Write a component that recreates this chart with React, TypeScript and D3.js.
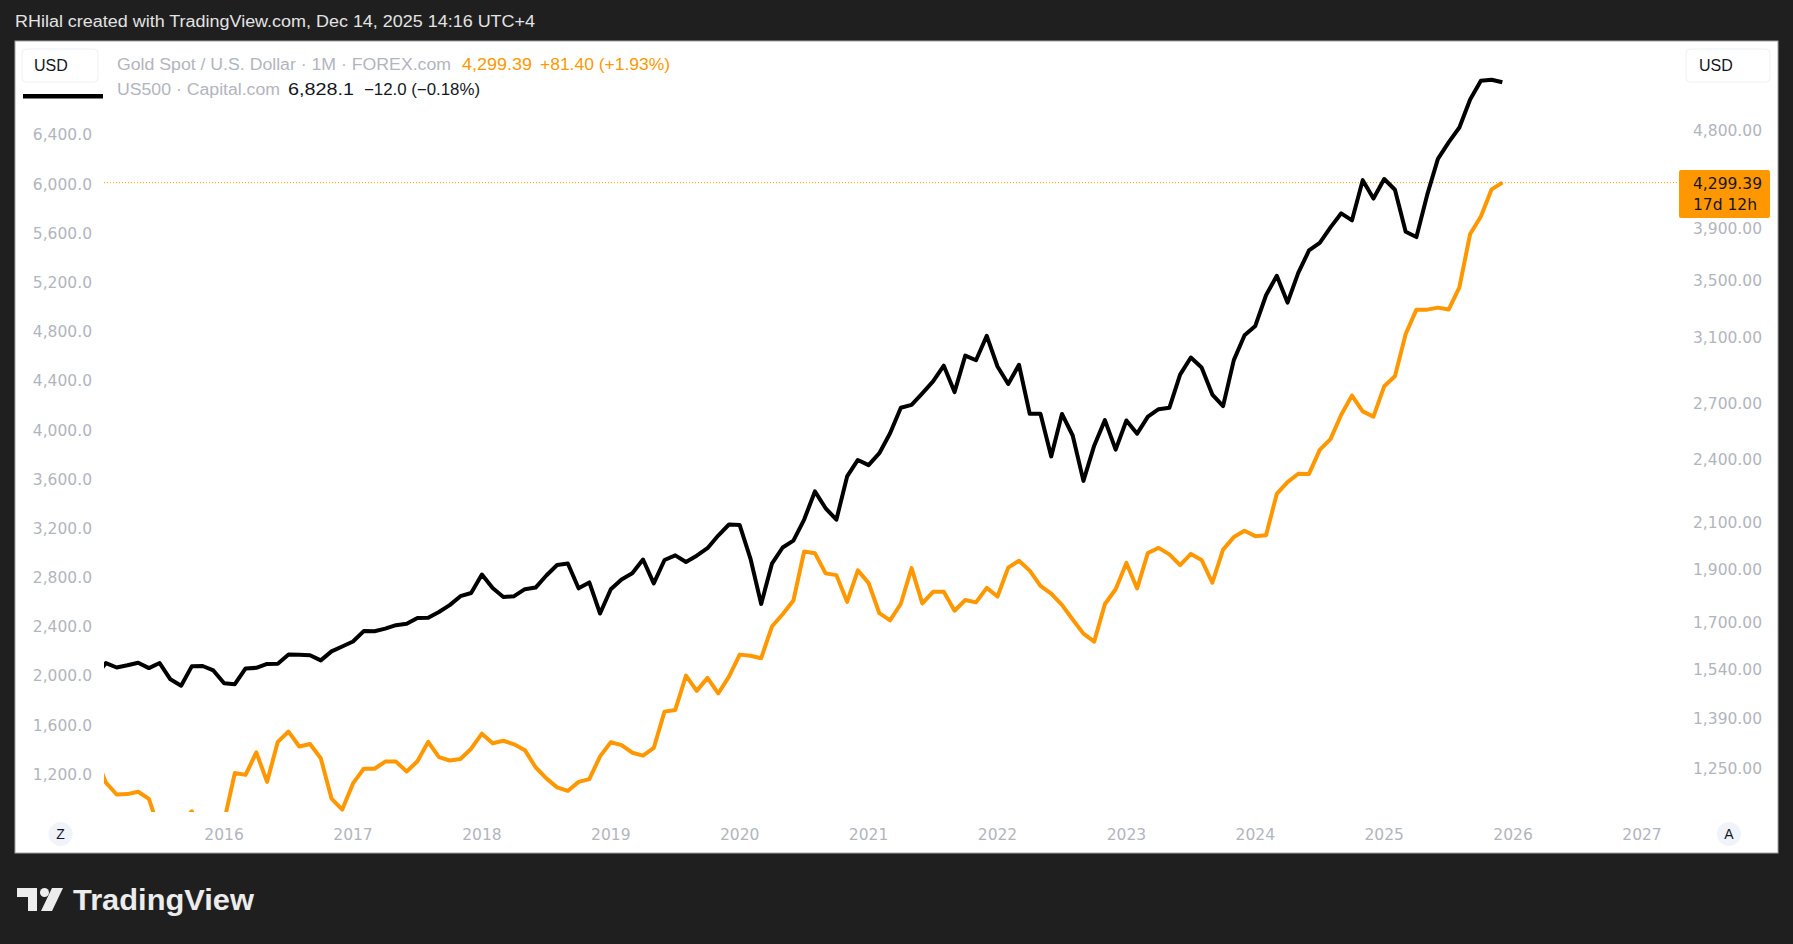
import React, { useEffect, useRef } from 'react';
import * as d3 from 'd3';

// monthly closes, Jan 2015 .. Dec 2025 (one row per year)
const us500 = [
  1995, 2104, 2068, 2086, 2107, 2063, 2104, 1972, 1920, 2079, 2080, 2044,
  1940, 1932, 2060, 2065, 2097, 2099, 2174, 2171, 2168, 2126, 2199, 2239,
  2279, 2364, 2363, 2384, 2412, 2423, 2470, 2472, 2519, 2575, 2648, 2674,
  2824, 2714, 2641, 2648, 2705, 2718, 2816, 2902, 2914, 2712, 2760, 2507,
  2704, 2784, 2834, 2946, 2752, 2942, 2980, 2926, 2977, 3038, 3141, 3231,
  3226, 2954, 2585, 2912, 3044, 3100, 3271, 3500, 3363, 3270, 3622, 3756,
  3714, 3811, 3973, 4181, 4204, 4298, 4395, 4523, 4308, 4605, 4567, 4766,
  4516, 4374, 4530, 4132, 4132, 3785, 4130, 3955, 3586, 3872, 4080, 3840,
  4077, 3970, 4109, 4169, 4180, 4450, 4589, 4508, 4288, 4194, 4568, 4770,
  4846, 5096, 5254, 5036, 5278, 5460, 5522, 5648, 5762, 5705, 6032, 5882,
  6041, 5954, 5612, 5569, 5912, 6205, 6339, 6460, 6688, 6840, 6849, 6828,
];

const gold = [
  1283, 1213, 1183, 1184, 1190, 1172, 1095, 1134, 1115, 1142, 1065, 1061,
  1118, 1238, 1233, 1293, 1215, 1322, 1351, 1309, 1316, 1277, 1173, 1146,
  1211, 1249, 1249, 1268, 1268, 1242, 1269, 1322, 1280, 1271, 1275, 1303,
  1345, 1318, 1325, 1315, 1299, 1253, 1224, 1201, 1192, 1215, 1222, 1282,
  1321, 1313, 1292, 1284, 1305, 1409, 1414, 1520, 1472, 1513, 1464, 1517,
  1589, 1585, 1577, 1686, 1730, 1781, 1975, 1968, 1886, 1879, 1776, 1898,
  1848, 1734, 1708, 1769, 1907, 1770, 1814, 1814, 1743, 1783, 1774, 1829,
  1796, 1909, 1937, 1897, 1837, 1807, 1765, 1711, 1661, 1633, 1768, 1824,
  1928, 1827, 1969, 1990, 1963, 1919, 1965, 1940, 1849, 1983, 2036, 2063,
  2040, 2044, 2230, 2286, 2327, 2326, 2447, 2503, 2635, 2744, 2654, 2625,
  2798, 2858, 3124, 3289, 3289, 3303, 3290, 3448, 3858, 4003, 4239, 4299.39,
];

const firstYear = 2015;
const yearLabels = ['2016', '2017', '2018', '2019', '2020', '2021', '2022', '2023', '2024', '2025', '2026', '2027'];
const leftTicks = [1200, 1600, 2000, 2400, 2800, 3200, 3600, 4000, 4400, 4800, 5200, 5600, 6000, 6400];
const rightTicks = [1250, 1390, 1540, 1700, 1900, 2100, 2400, 2700, 3100, 3500, 3900, 4800];

const lastGold = 4299.39;

function Chart() {
  const ref = useRef<SVGSVGElement>(null);

  useEffect(() => {
    const svg = d3.select(ref.current);
    svg.selectAll('*').remove();

    const axisFont = '"DejaVu Sans", sans-serif';
    const uiFont = '"Liberation Sans", Arial, sans-serif';
    const orange = '#ff9800';
    const gray = '#b2b5be';
    const ink = '#131722';

    const plot = { left: 104, right: 1678, top: 41, bottom: 812 };

    const monthIndex = (year) => (Number(year) - firstYear) * 12;
    const x = d3.scaleLinear().domain([12, 144]).range([224.1, 1642]);
    const yL = d3.scaleLinear().domain([1200, 6400]).range([774.2, 134.9]);
    const yR = d3.scaleLog().domain([1250, 4800]).range([768.4, 130.4]);

    // background + header
    svg.append('rect').attr('width', 1793).attr('height', 944).attr('fill', '#1f1f1f');
    svg
      .append('text')
      .attr('x', 15)
      .attr('y', 27)
      .attr('font-family', uiFont)
      .attr('font-size', 16)
      .attr('fill', '#e3e3e3')
      .attr('textLength', 520)
      .attr('lengthAdjust', 'spacingAndGlyphs')
      .text('RHilal created with TradingView.com, Dec 14, 2025 14:16 UTC+4');

    svg
      .append('rect')
      .attr('x', 15)
      .attr('y', 41)
      .attr('width', 1763)
      .attr('height', 812)
      .attr('fill', '#ffffff')
      .attr('stroke', '#a3a3a3')
      .attr('stroke-width', 1);

    // left price scale (US500)
    svg
      .append('g')
      .selectAll('text')
      .data(leftTicks)
      .enter()
      .append('text')
      .attr('x', 92)
      .attr('y', (d) => yL(d))
      .attr('dy', '0.36em')
      .attr('text-anchor', 'end')
      .attr('font-family', axisFont)
      .attr('font-size', 15.5)
      .attr('fill', gray)
      .text((d) => d3.format(',.1f')(d));

    // right price scale (gold, log)
    svg
      .append('g')
      .selectAll('text')
      .data(rightTicks)
      .enter()
      .append('text')
      .attr('x', 1693)
      .attr('y', (d) => yR(d))
      .attr('dy', '0.36em')
      .attr('font-family', axisFont)
      .attr('font-size', 15.5)
      .attr('fill', gray)
      .text((d) => d3.format(',.2f')(d));

    // time scale
    svg
      .append('g')
      .selectAll('text')
      .data(yearLabels)
      .enter()
      .append('text')
      .attr('x', (d) => x(monthIndex(d)))
      .attr('y', 834)
      .attr('dy', '0.36em')
      .attr('text-anchor', 'middle')
      .attr('font-family', axisFont)
      .attr('font-size', 15.5)
      .attr('fill', gray)
      .text((d) => d);

    [
      { cx: 60.6, label: 'Z' },
      { cx: 1729, label: 'A' },
    ].forEach((b) => {
      svg.append('circle').attr('cx', b.cx).attr('cy', 834).attr('r', 12).attr('fill', '#f0f3fa');
      svg
        .append('text')
        .attr('x', b.cx)
        .attr('y', 834)
        .attr('dy', '0.36em')
        .attr('text-anchor', 'middle')
        .attr('font-family', uiFont)
        .attr('font-size', 14)
        .attr('fill', ink)
        .text(b.label);
    });

    // plot area
    svg
      .append('clipPath')
      .attr('id', 'plot-clip')
      .append('rect')
      .attr('x', plot.left)
      .attr('y', plot.top)
      .attr('width', plot.right - plot.left)
      .attr('height', plot.bottom - plot.top);

    const g = svg.append('g').attr('clip-path', 'url(#plot-clip)');

    g.append('line')
      .attr('x1', plot.left)
      .attr('x2', plot.right)
      .attr('y1', yR(lastGold))
      .attr('y2', yR(lastGold))
      .attr('stroke', orange)
      .attr('stroke-width', 1)
      .attr('stroke-dasharray', '1 2');

    const spxLine = d3
      .line<number>()
      .x((d, i) => x(i))
      .y((d) => yL(d));
    const goldLine = d3
      .line<number>()
      .x((d, i) => x(i))
      .y((d) => yR(d));

    g.append('path')
      .attr('d', goldLine(gold))
      .attr('fill', 'none')
      .attr('stroke', orange)
      .attr('stroke-width', 4)
      .attr('stroke-linejoin', 'round');

    g.append('path')
      .attr('d', spxLine(us500))
      .attr('fill', 'none')
      .attr('stroke', '#000000')
      .attr('stroke-width', 4)
      .attr('stroke-linejoin', 'round');

    // last price tag
    svg
      .append('rect')
      .attr('x', 1679)
      .attr('y', 170)
      .attr('width', 91)
      .attr('height', 48)
      .attr('rx', 2)
      .attr('fill', orange);
    svg
      .append('text')
      .attr('x', 1693)
      .attr('y', 188.5)
      .attr('font-family', axisFont)
      .attr('font-size', 15.5)
      .attr('fill', ink)
      .text(d3.format(',.2f')(lastGold));
    svg
      .append('text')
      .attr('x', 1693)
      .attr('y', 210)
      .attr('font-family', axisFont)
      .attr('font-size', 15.5)
      .attr('fill', ink)
      .text('17d 12h');

    // currency buttons
    [
      { x: 22, w: 76, tx: 34 },
      { x: 1686, w: 84, tx: 1699 },
    ].forEach((b) => {
      svg
        .append('rect')
        .attr('x', b.x)
        .attr('y', 49)
        .attr('width', b.w)
        .attr('height', 33)
        .attr('rx', 4)
        .attr('fill', '#ffffff')
        .attr('stroke', '#eef0f3');
      svg
        .append('text')
        .attr('x', b.tx)
        .attr('y', 70.5)
        .attr('font-family', uiFont)
        .attr('font-size', 16)
        .attr('fill', ink)
        .text('USD');
    });
    svg.append('rect').attr('x', 23).attr('y', 94).attr('width', 80).attr('height', 4.5).attr('fill', '#000000');

    // legend
    const legend = [
      { x: 117, y: 69.5, w: 334, fill: gray, t: 'Gold Spot / U.S. Dollar · 1M · FOREX.com' },
      { x: 462, y: 69.5, w: 70, fill: orange, t: '4,299.39' },
      { x: 540, y: 69.5, w: 130, fill: orange, t: '+81.40 (+1.93%)' },
      { x: 117, y: 94.5, w: 163, fill: gray, t: 'US500 · Capital.com' },
      { x: 288, y: 94.5, w: 66, fill: ink, t: '6,828.1' },
      { x: 364, y: 94.5, w: 116, fill: ink, t: '\u221212.0 (\u22120.18%)' },
    ];
    svg
      .append('g')
      .selectAll('text')
      .data(legend)
      .enter()
      .append('text')
      .attr('x', (d) => d.x)
      .attr('y', (d) => d.y)
      .attr('font-family', uiFont)
      .attr('font-size', 16)
      .attr('fill', (d) => d.fill)
      .attr('textLength', (d) => d.w)
      .attr('lengthAdjust', 'spacingAndGlyphs')
      .text((d) => d.t);

    // TradingView logo
    const logo = svg.append('g').attr('fill', '#ececec');
    logo.append('path').attr('d', 'M17,888 H37 V911 H28 V897 H17 Z');
    logo.append('circle').attr('cx', 44.5).attr('cy', 892.5).attr('r', 4.5);
    logo.append('path').attr('d', 'M52,888 H63 L52,911 H41 Z');
    logo
      .append('text')
      .attr('x', 73)
      .attr('y', 910)
      .attr('font-family', uiFont)
      .attr('font-weight', 'bold')
      .attr('font-size', 30)
      .attr('textLength', 181)
      .attr('lengthAdjust', 'spacingAndGlyphs')
      .text('TradingView');
  }, []);

  return <svg ref={ref} width={1793} height={944} style={{ display: 'block' }}></svg>;
}

export default function App() {
  useEffect(() => {
    document.body.style.margin = '0';
    document.body.style.overflow = 'hidden';
    document.body.style.background = '#1f1f1f';
  }, []);
  return <Chart />;
}
